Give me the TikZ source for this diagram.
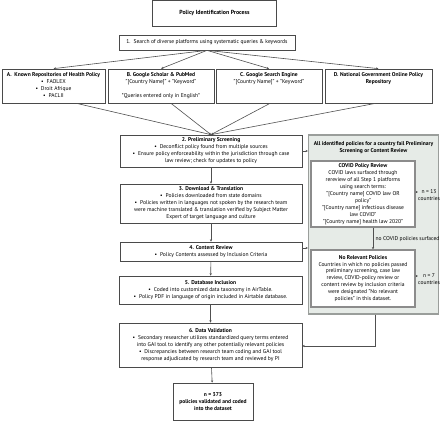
\documentclass[tikz,border=0pt]{standalone}
\usepackage{fontspec}
\setmainfont{PT Sans}
\usetikzlibrary{arrows.meta,calc}
\definecolor{boxc}{HTML}{4A4A4A}
\definecolor{linec}{HTML}{505050}
\definecolor{grayfill}{HTML}{E6EBE7}
\definecolor{grayedge}{HTML}{9A9E9B}
\definecolor{inneredge}{HTML}{8C8C8C}
\newcommand\fsz{\fontsize{5.55pt}{6.95pt}\selectfont}
\begin{document}
\begin{tikzpicture}[x=1pt,y=-1pt,
  box/.style={draw=boxc, line width=0.7pt, fill=white, inner sep=0pt, align=center, font=\fsz},
  txt/.style={inner sep=0pt, align=center, font=\fsz},
  arr/.style={draw=linec, line width=0.6pt, -{Stealth[length=2.4pt,width=2.2pt]}},
  ln/.style={draw=linec, line width=0.6pt}
]
\useasboundingbox (0,0) rectangle (440,421);

% title
\node[box, minimum width=124pt, minimum height=25.5pt, font=\fontsize{5.9pt}{7pt}\selectfont\bfseries] (title) at (214.5,13.25) {Policy Identification Process};

% step 1
\node[box, minimum width=176pt, minimum height=15pt] (s1) at (207,42.5) {1.\ \ Search of diverse platforms using systematic queries \& keywords};

% sources
\node[box, minimum width=103pt, minimum height=34pt] (A) at (53.5,86) {};
\node[box, minimum width=106pt, minimum height=34pt] (B) at (161,86) {};
\node[box, minimum width=106pt, minimum height=34pt] (C) at (269,86) {};
\node[box, minimum width=107pt, minimum height=34pt] (D) at (378.5,86) {};

\node[txt, anchor=north] (At) at (53.5,72.4) {\textbf{A.\ \ Known Repositories of Health Policy}\\ •\ \ FAOLEX\\ •\ \ Droit Afrique\\ •\ \ PACLII};
\node[txt, anchor=north] (Bt) at (161,72.4) {\textbf{B. Google Scholar \& PubMed}\\ "[Country Name]" + "Keyword"\\[6.95pt] *Queries entered only in English*};
\node[txt, anchor=north] (Ct) at (269,72.4) {\textbf{C. Google Search Engine}\\ "[Country Name]" + "Keyword"};
\node[txt, anchor=north] (Dt) at (378.5,72.4) {\textbf{D. National Government Online Policy}\\ \textbf{Repository}};

% steps
\node[box, minimum width=182pt, minimum height=32pt] (s2) at (211,151) {\textbf{2. Preliminary Screening}\\ •\ \ Deconflict policy found from multiple sources\\ •\ \ Ensure policy enforceability within the jurisdiction through case\\ law review; check for updates to policy};
\node[box, minimum width=182pt, minimum height=39pt] (s3) at (211,203.5) {\textbf{3. Download \& Translation}\\ •\ \ Policies downloaded from state domains\\ •\ \ Policies written in languages not spoken by the research team\\ were machine translated \& translation verified by Subject Matter\\ Expert of target language and culture};
\node[box, minimum width=182pt, minimum height=19pt] (s4) at (211,251.5) {\textbf{4. Content Review}\\ •\ \ Policy Contents assessed by Inclusion Criteria};
\node[box, minimum width=183pt, minimum height=28pt] (s5) at (210.5,290) {\textbf{5. Database Inclusion}\\ •\ \ Coded into customized data taxonomy in AirTable.\\ •\ \ Policy PDF in language of origin included in Airtable database.};
\node[box, minimum width=183pt, minimum height=44pt] (s6) at (210.5,345) {\textbf{6. Data Validation}\\ •\ \ Secondary researcher utilizes standardized query terms entered\\ into GAI tool to identify any other potentially relevant policies\\ •\ \ Discrepancies between research team coding and GAI tool\\ response adjudicated by research team and reviewed by PI};
\node[box, minimum width=80pt, minimum height=37pt, font=\fsz\bfseries] (fin) at (213,401.5) {n = 373\\ policies validated and coded\\ into the dataset};

% gray region
\node[draw=grayedge, line width=1.1pt, fill=grayfill, minimum width=130pt, minimum height=179pt, inner sep=0pt] (grp) at (373.5,224.5) {};
\node[txt, font=\fsz\bfseries] (grt) at (373.5,148) {All identified policies for a country fail Preliminary\\ Screening or Content Review};
\node[box, draw=inneredge, line width=1.1pt, minimum width=104pt, minimum height=66pt] (cov) at (363,194) {\textbf{COVID Policy Review}\\ COVID laws surfaced through\\ rereview of all Step 1 platforms\\ using search terms:\\ "[Country name] COVID law OR\\ policy"\\ "[Country name] infectious disease\\ law COVID"\\ "[Country name] health law 2020"};
\node[box, draw=inneredge, line width=1.1pt, minimum width=104pt, minimum height=57pt] (nrp) at (363,278.5) {\textbf{No Relevant Policies}\\ Countries in which no policies passed\\ preliminary screening, case law\\ review, COVID-policy review or\\ content review by inclusion criteria\\ were designated "No relevant\\ policies" in this dataset.};

\node[txt, anchor=west] (n13) at (418,195) {n = 13\\ countries};
\node[txt, anchor=west] (n7) at (418,279) {n = 7\\ countries};
\node[txt, anchor=west] (ncov) at (375.5,239) {no COVID policies surfaced};

% connectors
\foreach \t in {A,B,C,D} \draw[arr] (s1.south) -- (\t.north);
\draw[arr] ($(A.south)+(23,0)$) -- (s2.north);
\draw[arr] ($(B.south)+(10,0)$) -- (s2.north);
\draw[arr] ($(C.south)+(1,0)$) -- (s2.north);
\draw[arr] ($(D.south)+(-3,0)$) -- (s2.north);
\draw[arr] (s2) -- (s3);
\draw[arr] (s3) -- (s4);
\draw[arr] (s4) -- (s5);
\draw[arr] (s5) -- (s6);
\draw[arr] (s6) -- (fin);
\draw[arr] (s2.east) -- (s2.east -| grp.west);
\draw[arr] (s4.east |- 0,248) -- (grp.west |- 0,248);
\draw[arr] (cov.east |- 0,192) -- (n13.west |- 0,192);
\draw[arr] (nrp.east |- 0,276) -- (n7.west |- 0,276);
\draw[arr] (cov.south -| 373,0) -- (nrp.north -| 373,0);
\draw[arr] (grp.south -| 375,0) -- (375,346) -- (s6.east |- 0,346);
\end{tikzpicture}
\end{document}
